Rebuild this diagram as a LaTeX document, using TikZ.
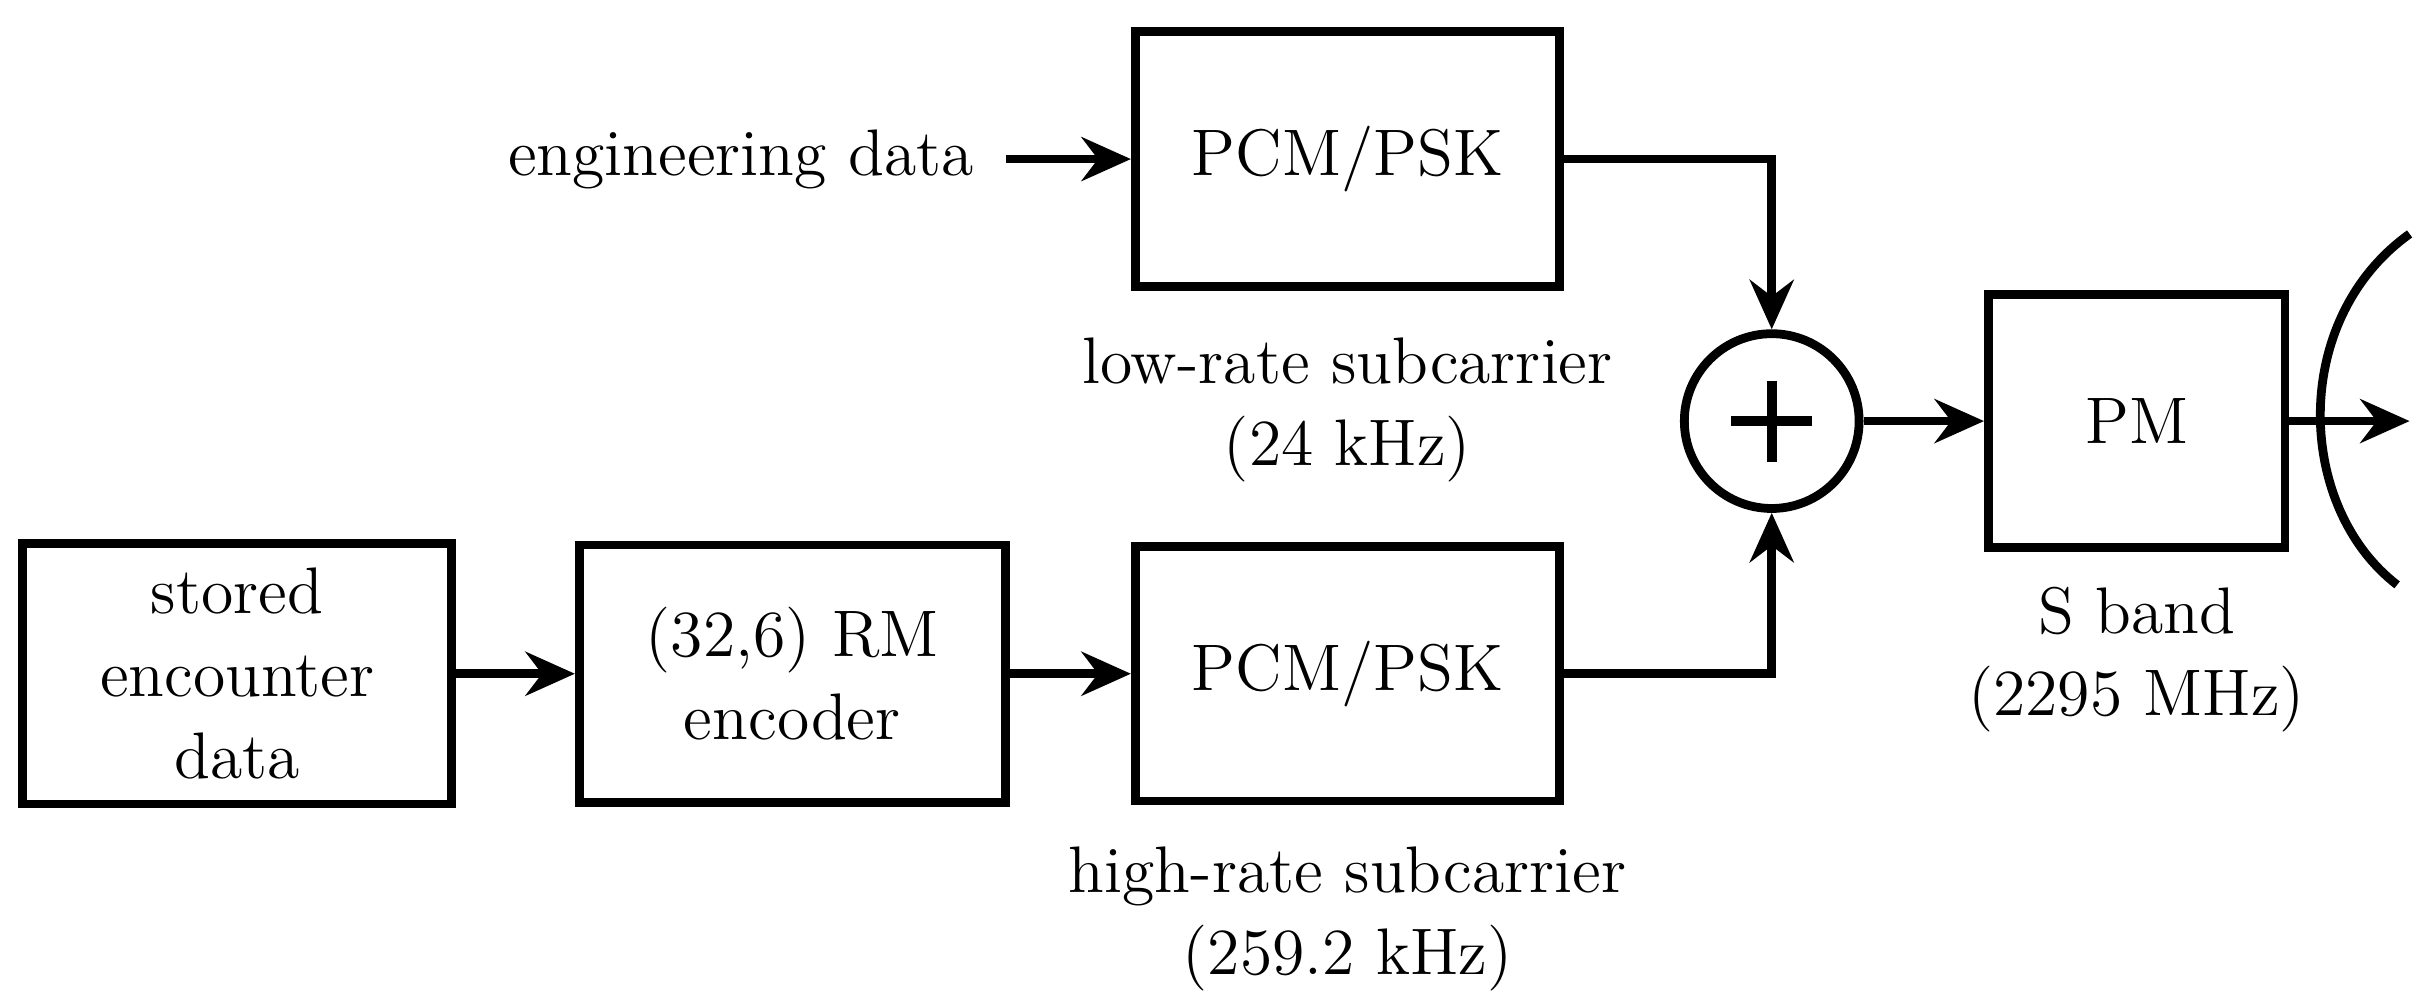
\documentclass[tikz,border=0pt]{standalone}
\usetikzlibrary{positioning,arrows.meta}
\tikzset{
  block/.style={draw, line width=1.6pt, minimum width=2.72cm, minimum height=1.63cm, align=center, inner sep=0pt},
  sum/.style={draw, circle, line width=1.6pt, minimum size=1.12cm, inner sep=0pt},
  lbl/.style={align=center, inner sep=0pt},
  sig/.style={line width=1.6pt, -{Stealth[length=9pt,width=8pt,inset=3pt]}}
}
\begin{document}
\begin{tikzpicture}[x=0.01cm, y=-0.01cm, font=\rmfamily\fontsize{12}{15}\selectfont]
      \useasboundingbox (0,0) rectangle (1560,646);
      % blocks
      \node [block] (psk-low) at (864,102) {PCM/PSK};
      \node [block] (psk-high) at (864,432) {PCM/PSK};
      \node [block, minimum width=2.75cm, minimum height=1.67cm] (store) at (152,432) {stored\\encounter\\data};
      \node [block, minimum width=2.73cm, minimum height=1.65cm] (rm) at (508,432) {(32,6) RM\\encoder};
      \node [sum] (sum) at (1136,270) {};
      \draw [line width=1.8pt] (sum.center) ++(-26,0) -- ++(52,0) (sum.center) ++(0,-26) -- ++(0,52);
      \node [block, minimum width=1.9cm, minimum height=1.62cm] (pm) at (1370,270) {PM};

      % labels
      \node [lbl, anchor=east] (eng) at (625,102) {engineering data};
      \node [lbl] (low-lbl) at (864,263) {low-rate subcarrier\\(24 kHz)};
      \node [lbl] (high-lbl) at (864,589) {high-rate subcarrier\\(259.2 kHz)};
      \node [lbl] (pm-lbl) at (1370,423) {S band\\(2295 MHz)};

      % antenna
      \coordinate (ant-top) at (1545,150);
      \coordinate (ant-bot) at (1537,375);
      \coordinate (out) at (1545,270);
      \draw [line width=1.6pt] (ant-top) .. controls (1468,205) and (1472,325) .. (ant-bot);

      % connections
      \draw [sig] (eng.east) ++(20,0) coordinate (eng-out) -- (psk-low);
      \draw [sig] (store) -- (rm);
      \draw [sig] (rm) -- (psk-high);
      \draw [sig] (psk-low) -| (sum);
      \draw [sig] (psk-high) -| (sum);
      \draw [sig] (sum) -- (pm);
      \draw [sig] (pm) -- (out);
\end{tikzpicture}
\end{document}
